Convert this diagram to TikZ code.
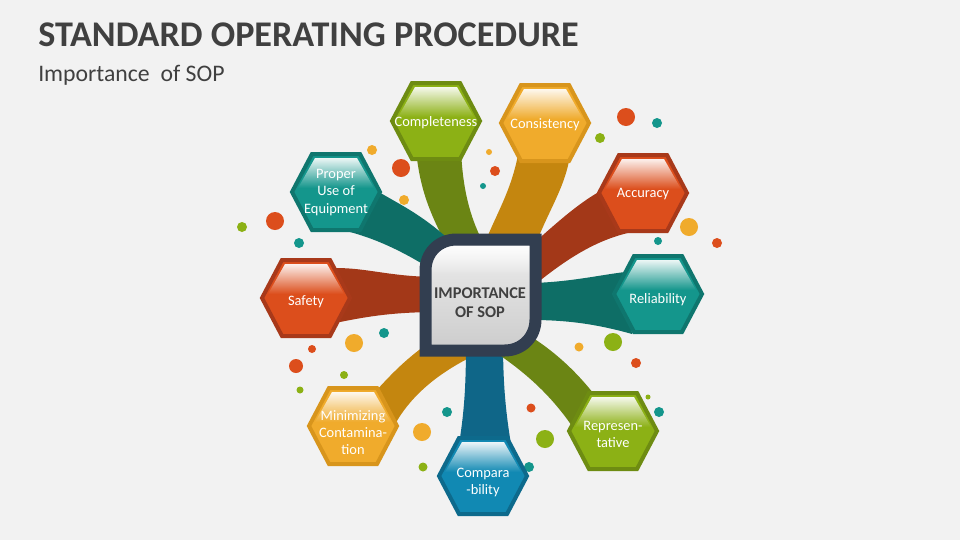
\documentclass[tikz,border=0pt]{standalone}
\usepackage{fontspec}
\setmainfont{Carlito}
\usetikzlibrary{fadings}
\definecolor{bg}{HTML}{F2F2F2}
\definecolor{titlegray}{HTML}{404040}
\definecolor{navy}{HTML}{323E50}
\definecolor{gFill}{HTML}{8CB115}\definecolor{gBord}{HTML}{6E8C12}\definecolor{gStem}{HTML}{6B8514}
\definecolor{oFill}{HTML}{F0AB2C}\definecolor{oBord}{HTML}{D8951C}\definecolor{oStem}{HTML}{C4860F}
\definecolor{tFill}{HTML}{14968C}\definecolor{tBord}{HTML}{0F766E}\definecolor{tStem}{HTML}{0E6E66}
\definecolor{rFill}{HTML}{DC4E1C}\definecolor{rBord}{HTML}{A8391A}\definecolor{rStem}{HTML}{A33818}
\definecolor{bFill}{HTML}{1189B3}\definecolor{bBord}{HTML}{0D6A8C}\definecolor{bStem}{HTML}{0F6688}
\tikzfading[name=glossfade, top color=transparent!8, bottom color=transparent!100]
\newcommand{\hexnode}[7]{%
  \filldraw[fill=#4, draw=#5, line width=3] (#2-44,#3) -- (#2-24,#3-38) -- (#2+24,#3-38) -- (#2+44,#3) -- (#2+24,#3+38) -- (#2-24,#3+38) -- cycle;
  \fill[white, path fading=glossfade] (#2-21,#3-34) -- (#2+21,#3-34) -- (#2+38,#3-4) -- (#2-38,#3-4) -- cycle;
  \node[hexlabel] (#1) at (#2,#7) {#6};
}
\newcommand{\spot}[4]{\fill[#4] (#1,#2) circle[radius=#3];}
\begin{document}
\begin{tikzpicture}[x=0.75pt, y=-0.75pt,
  hexlabel/.style={text=white, font=\fontsize{10.8}{12.8}\selectfont, align=center, inner sep=0pt},
  centerlabel/.style={text=titlegray, font=\fontsize{12.3}{14}\selectfont\bfseries, align=center}]
\useasboundingbox (0,0) rectangle (960,540);
\fill[bg] (0,0) rectangle (960,540);
% title
\node[anchor=base west, inner sep=0pt, text=titlegray, font=\fontsize{27.1}{32}\selectfont\bfseries] (title) at (38,46) {STANDARD OPERATING PROCEDURE};
\node[anchor=base west, inner sep=0pt, text=titlegray, font=\fontsize{17.8}{21}\selectfont] (subtitle) at (38,81) {Importance\ \ of SOP};
% dots
\spot{372}{150}{5}{oFill}
\spot{401}{168}{9}{rFill}
\spot{404}{200}{5}{oFill}
\spot{275}{221}{9}{rFill}
\spot{242}{227}{5}{gFill}
\spot{299}{243}{5}{tFill}
\spot{489}{152}{3}{oFill}
\spot{495}{171}{5}{rFill}
\spot{483}{186}{3}{tFill}
\spot{600}{138}{5}{gFill}
\spot{626}{117}{9}{rFill}
\spot{657}{123}{5}{tFill}
\spot{689}{227}{9}{oFill}
\spot{658}{241}{4}{tFill}
\spot{717}{243}{5}{rFill}
\spot{384}{333}{5}{tFill}
\spot{354}{343}{9}{oFill}
\spot{312}{349}{4}{rFill}
\spot{296}{366}{7}{rFill}
\spot{344}{375}{4}{gFill}
\spot{300}{390}{3.5}{gFill}
\spot{422}{432}{9}{oFill}
\spot{423}{467}{4.5}{gFill}
\spot{447}{412}{5}{tFill}
\spot{529}{467}{5}{tFill}
\spot{531}{408}{4.5}{rFill}
\spot{545}{439}{9}{gFill}
\spot{579}{347}{4.5}{oFill}
\spot{613}{342}{9}{gFill}
\spot{636}{363}{5}{rFill}
\spot{648}{397}{2.5}{gFill}
\spot{659}{412}{5}{tFill}
% stems
\fill[gStem] (416,150) .. controls (420,190) and (430,215) .. (452,255) -- (490,255) .. controls (472,225) and (463,195) .. (461,150) -- cycle;
\fill[oStem] (518,155) .. controls (510,195) and (495,215) .. (480,255) -- (532,255) .. controls (545,215) and (565,190) .. (570,155) -- cycle;
\fill[tStem] (372,188) .. controls (400,205) and (425,215) .. (460,250) -- (440,275) .. controls (410,255) and (380,240) .. (350,232) -- cycle;
\fill[rStem] (335,268) .. controls (370,268) and (390,277) .. (440,277) -- (440,312) .. controls (395,312) and (370,316) .. (340,322) -- cycle;
\fill[oStem] (375,392) .. controls (395,370) and (410,355) .. (440,335) -- (475,355) .. controls (440,372) and (410,395) .. (393,428) -- cycle;
\fill[bStem] (458,450) .. controls (465,410) and (466,380) .. (466,340) -- (503,340) .. controls (503,380) and (505,410) .. (512,450) -- cycle;
\fill[gStem] (520,330) .. controls (555,350) and (580,375) .. (600,402) -- (576,432) .. controls (555,400) and (530,375) .. (492,350) -- cycle;
\fill[rStem] (528,248) .. controls (555,225) and (580,200) .. (612,185) -- (632,232) .. controls (595,240) and (565,260) .. (532,287) -- cycle;
\fill[tStem] (532,283) .. controls (570,282) and (600,275) .. (625,272) -- (632,334) .. controls (600,325) and (570,320) .. (532,320) -- cycle;
% hexagons
\hexnode{completeness}{436}{121}{gFill}{gBord}{Completeness}{122.5}
\hexnode{consistency}{545}{123}{oFill}{oBord}{Consistency}{124.5}
\hexnode{proper}{336}{192}{tFill}{tBord}{Proper\\Use of\\Equipment}{192.5}
\hexnode{accuracy}{643}{193}{rFill}{rBord}{Accuracy}{194.5}
\hexnode{safety}{306}{298}{rFill}{rBord}{Safety}{301.5}
\hexnode{reliability}{658}{294}{tFill}{tBord}{Reliability}{299.5}
\hexnode{minimizing}{353}{426}{oFill}{oBord}{Minimizing\\Contamina-\\tion}{432.5}
\hexnode{comparability}{483}{476}{bFill}{bBord}{Compara\\-bility}{482.5}
\hexnode{representative}{613}{431}{gFill}{gBord}{Represen-\\tative}{434}
% center box
\path[draw=navy, line width=9, top color=white!93!black, bottom color=white!80!black]
  (425.5,350.5) -- (425.5,270.5) .. controls (425.5,253.4) and (438.4,239.5) .. (456.5,239.5)
  -- (535.5,239.5) -- (535.5,319.5) .. controls (535.5,336.6) and (522.6,350.5) .. (504.5,350.5) -- cycle;
\fill[white, path fading=glossfade] (432,268) .. controls (432,256) and (442,246) .. (456,246) -- (529,246) -- (529,275) -- (432,275) -- cycle;
\node[centerlabel] (center) at (480,303) {IMPORTANCE\\OF SOP};
\end{tikzpicture}
\end{document}
